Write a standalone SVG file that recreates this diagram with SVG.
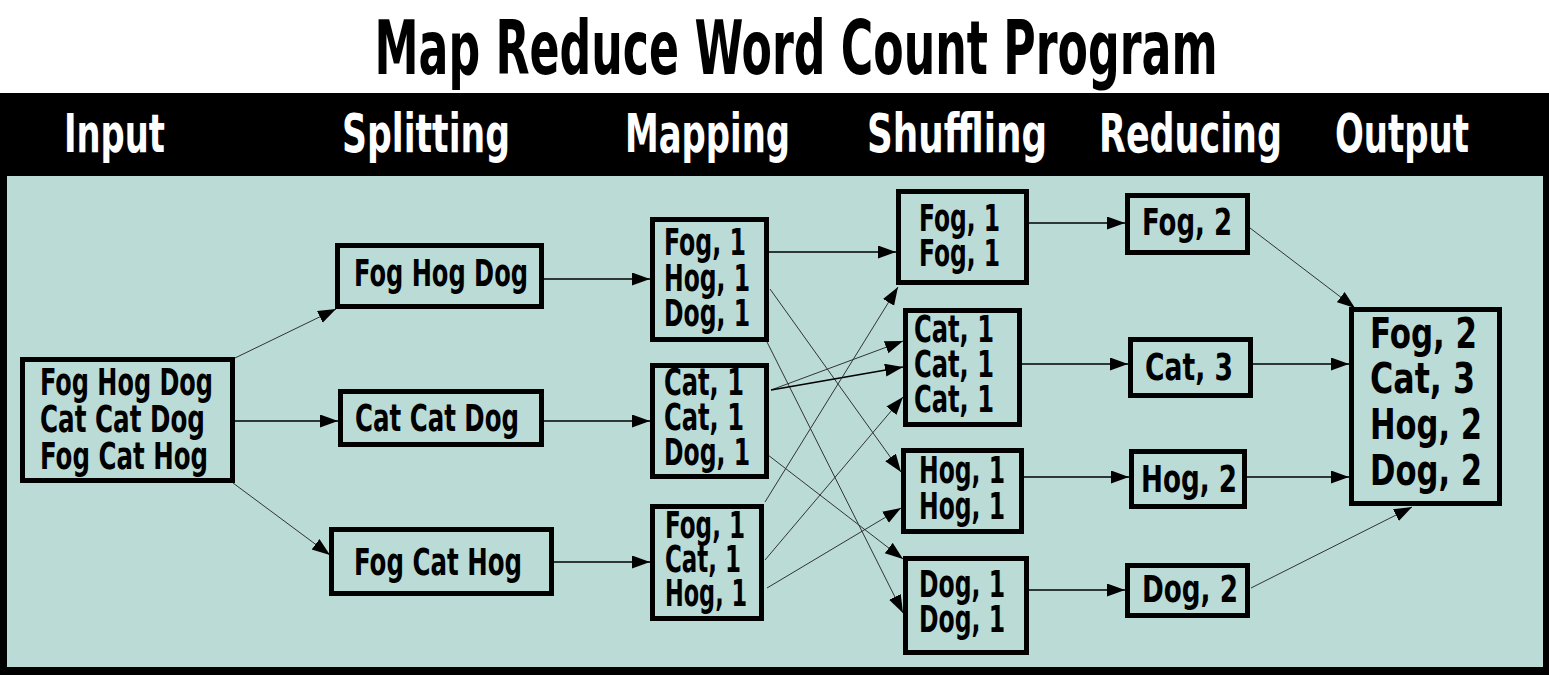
<svg xmlns="http://www.w3.org/2000/svg" width="1549" height="675" viewBox="0 0 1549 675">
<style>
text{font-family:"Liberation Sans Narrow","DejaVu Sans Condensed","Liberation Sans",sans-serif;font-weight:bold;font-stretch:condensed}
.t{font-size:38px;fill:#000}
.m{font-size:37px;fill:#000}
.o{font-size:42px;fill:#000}
.h{font-size:54px;fill:#fff}
.box{fill:none;stroke:#000;stroke-width:5}
.c{fill:none;stroke:#000;stroke-width:1.6}
.d{fill:none;stroke:#333;stroke-width:1}
</style>
<defs>
<marker id="ar" markerUnits="userSpaceOnUse" markerWidth="20" markerHeight="14" refX="18" refY="6.5" orient="auto">
<path d="M0,0 L18,6.5 L0,13 z" fill="#000"/>
</marker>
</defs>
<rect x="0" y="0" width="1549" height="675" fill="#fff"/>
<text x="796" y="74" text-anchor="middle" style="font-size:75px" textLength="843" lengthAdjust="spacingAndGlyphs">Map Reduce Word Count Program</text>
<rect x="0" y="93" width="1549" height="582" fill="#000"/>
<rect x="7" y="176" width="1536" height="491" fill="#badbd6"/>
<g id="headers">
<text class="h" x="64" y="152" textLength="101" lengthAdjust="spacingAndGlyphs">Input</text>
<text class="h" x="342" y="152" textLength="168" lengthAdjust="spacingAndGlyphs">Splitting</text>
<text class="h" x="625" y="152" textLength="165" lengthAdjust="spacingAndGlyphs">Mapping</text>
<text class="h" x="867" y="152" textLength="180" lengthAdjust="spacingAndGlyphs">Shuffling</text>
<text class="h" x="1099" y="152" textLength="183" lengthAdjust="spacingAndGlyphs">Reducing</text>
<text class="h" x="1335" y="152" textLength="134" lengthAdjust="spacingAndGlyphs">Output</text>
</g>
<g id="connectors">
<line class="d" x1="235" y1="358" x2="336" y2="309" marker-end="url(#ar)"/>
<line class="c" x1="235" y1="421" x2="338" y2="421" marker-end="url(#ar)"/>
<line class="d" x1="233" y1="483" x2="330" y2="555" marker-end="url(#ar)"/>
<line class="c" x1="544" y1="279" x2="650" y2="279" marker-end="url(#ar)"/>
<line class="c" x1="544" y1="421" x2="650" y2="421" marker-end="url(#ar)"/>
<line class="c" x1="554" y1="562" x2="650" y2="562" marker-end="url(#ar)"/>
<line class="c" x1="769" y1="252" x2="896" y2="252" marker-end="url(#ar)"/>
<line class="d" x1="770" y1="289" x2="901" y2="472" marker-end="url(#ar)"/>
<line class="d" x1="767" y1="342" x2="903" y2="613" marker-end="url(#ar)"/>
<line class="d" x1="771" y1="390" x2="903" y2="341" marker-end="url(#ar)"/>
<line class="c" x1="771" y1="390" x2="903" y2="367" marker-end="url(#ar)"/>
<line class="d" x1="768" y1="455" x2="903" y2="559" marker-end="url(#ar)"/>
<line class="d" x1="765" y1="502" x2="898" y2="287" marker-end="url(#ar)"/>
<line class="d" x1="765" y1="560" x2="903" y2="397" marker-end="url(#ar)"/>
<line class="d" x1="767" y1="588" x2="901" y2="508" marker-end="url(#ar)"/>
<line class="c" x1="1029" y1="223" x2="1125" y2="223" marker-end="url(#ar)"/>
<line class="c" x1="1022" y1="364" x2="1128" y2="364" marker-end="url(#ar)"/>
<line class="c" x1="1024" y1="477" x2="1129" y2="477" marker-end="url(#ar)"/>
<line class="c" x1="1029" y1="590" x2="1125" y2="590" marker-end="url(#ar)"/>
<line class="d" x1="1250" y1="228" x2="1355" y2="308" marker-end="url(#ar)"/>
<line class="c" x1="1253" y1="364" x2="1349" y2="364" marker-end="url(#ar)"/>
<line class="c" x1="1247" y1="477" x2="1349" y2="477" marker-end="url(#ar)"/>
<line class="d" x1="1251" y1="588" x2="1412" y2="507" marker-end="url(#ar)"/>
</g>
<g id="input">
<rect class="box" x="22.5" y="359.5" width="210" height="121"/>
<text class="m"><tspan x="40" y="395" textLength="173" lengthAdjust="spacingAndGlyphs">Fog Hog Dog</tspan><tspan x="40" y="432" textLength="165" lengthAdjust="spacingAndGlyphs">Cat Cat Dog</tspan><tspan x="40" y="469" textLength="168" lengthAdjust="spacingAndGlyphs">Fog Cat Hog</tspan></text>
</g>
<g id="split1">
<rect class="box" x="337.5" y="245.5" width="204" height="61"/>
<text class="t" x="354" y="286" textLength="174" lengthAdjust="spacingAndGlyphs">Fog Hog Dog</text>
</g>
<g id="split2">
<rect class="box" x="340.5" y="391.5" width="201" height="53"/>
<text class="t" x="355" y="431" textLength="164" lengthAdjust="spacingAndGlyphs">Cat Cat Dog</text>
</g>
<g id="split3">
<rect class="box" x="331.5" y="529.5" width="220" height="64"/>
<text class="t" x="354" y="575" textLength="168" lengthAdjust="spacingAndGlyphs">Fog Cat Hog</text>
</g>
<g id="map1">
<rect class="box" x="652.5" y="219.5" width="114" height="120"/>
<text class="m"><tspan x="664" y="255" textLength="82" lengthAdjust="spacingAndGlyphs">Fog, 1</tspan><tspan x="664" y="291" textLength="86" lengthAdjust="spacingAndGlyphs">Hog, 1</tspan><tspan x="664" y="326" textLength="86" lengthAdjust="spacingAndGlyphs">Dog, 1</tspan></text>
</g>
<g id="map2">
<rect class="box" x="652.5" y="365.5" width="114" height="111"/>
<text class="m"><tspan x="664" y="395" textLength="80" lengthAdjust="spacingAndGlyphs">Cat, 1</tspan><tspan x="664" y="430" textLength="80" lengthAdjust="spacingAndGlyphs">Cat, 1</tspan><tspan x="664" y="465" textLength="86" lengthAdjust="spacingAndGlyphs">Dog, 1</tspan></text>
</g>
<g id="map3">
<rect class="box" x="652.5" y="506.5" width="109" height="112"/>
<text class="m"><tspan x="665" y="538" textLength="80" lengthAdjust="spacingAndGlyphs">Fog, 1</tspan><tspan x="665" y="572" textLength="76" lengthAdjust="spacingAndGlyphs">Cat, 1</tspan><tspan x="665" y="606" textLength="82" lengthAdjust="spacingAndGlyphs">Hog, 1</tspan></text>
</g>
<g id="shuffle1">
<rect class="box" x="898.5" y="191.5" width="128" height="91"/>
<text class="m"><tspan x="919" y="231" textLength="81" lengthAdjust="spacingAndGlyphs">Fog, 1</tspan><tspan x="919" y="266" textLength="81" lengthAdjust="spacingAndGlyphs">Fog, 1</tspan></text>
</g>
<g id="shuffle2">
<rect class="box" x="905.5" y="310.5" width="114" height="114"/>
<text class="m"><tspan x="914" y="342" textLength="80" lengthAdjust="spacingAndGlyphs">Cat, 1</tspan><tspan x="914" y="377" textLength="80" lengthAdjust="spacingAndGlyphs">Cat, 1</tspan><tspan x="914" y="412" textLength="80" lengthAdjust="spacingAndGlyphs">Cat, 1</tspan></text>
</g>
<g id="shuffle3">
<rect class="box" x="903.5" y="450.5" width="118" height="81"/>
<text class="m"><tspan x="919" y="483" textLength="86" lengthAdjust="spacingAndGlyphs">Hog, 1</tspan><tspan x="919" y="519" textLength="86" lengthAdjust="spacingAndGlyphs">Hog, 1</tspan></text>
</g>
<g id="shuffle4">
<rect class="box" x="905.5" y="558.5" width="121" height="94"/>
<text class="m"><tspan x="919" y="597" textLength="86" lengthAdjust="spacingAndGlyphs">Dog, 1</tspan><tspan x="919" y="632" textLength="86" lengthAdjust="spacingAndGlyphs">Dog, 1</tspan></text>
</g>
<g id="reduce1">
<rect class="box" x="1127.5" y="195.5" width="120" height="57"/>
<text class="t" x="1142" y="235" textLength="90" lengthAdjust="spacingAndGlyphs">Fog, 2</text>
</g>
<g id="reduce2">
<rect class="box" x="1130.5" y="339.5" width="120" height="56"/>
<text class="t" x="1145" y="380" textLength="88" lengthAdjust="spacingAndGlyphs">Cat, 3</text>
</g>
<g id="reduce3">
<rect class="box" x="1131.5" y="451.5" width="113" height="55"/>
<text class="t" x="1141" y="492" textLength="96" lengthAdjust="spacingAndGlyphs">Hog, 2</text>
</g>
<g id="reduce4">
<rect class="box" x="1127.5" y="565.5" width="120" height="50"/>
<text class="t" x="1142" y="602" textLength="96" lengthAdjust="spacingAndGlyphs">Dog, 2</text>
</g>
<g id="output">
<rect class="box" x="1351.5" y="309.5" width="148" height="194"/>
<text class="o"><tspan x="1370" y="348" textLength="107" lengthAdjust="spacingAndGlyphs">Fog, 2</tspan><tspan x="1370" y="393" textLength="105" lengthAdjust="spacingAndGlyphs">Cat, 3</tspan><tspan x="1370" y="439" textLength="112" lengthAdjust="spacingAndGlyphs">Hog, 2</tspan><tspan x="1370" y="485" textLength="112" lengthAdjust="spacingAndGlyphs">Dog, 2</tspan></text>
</g>
</svg>
